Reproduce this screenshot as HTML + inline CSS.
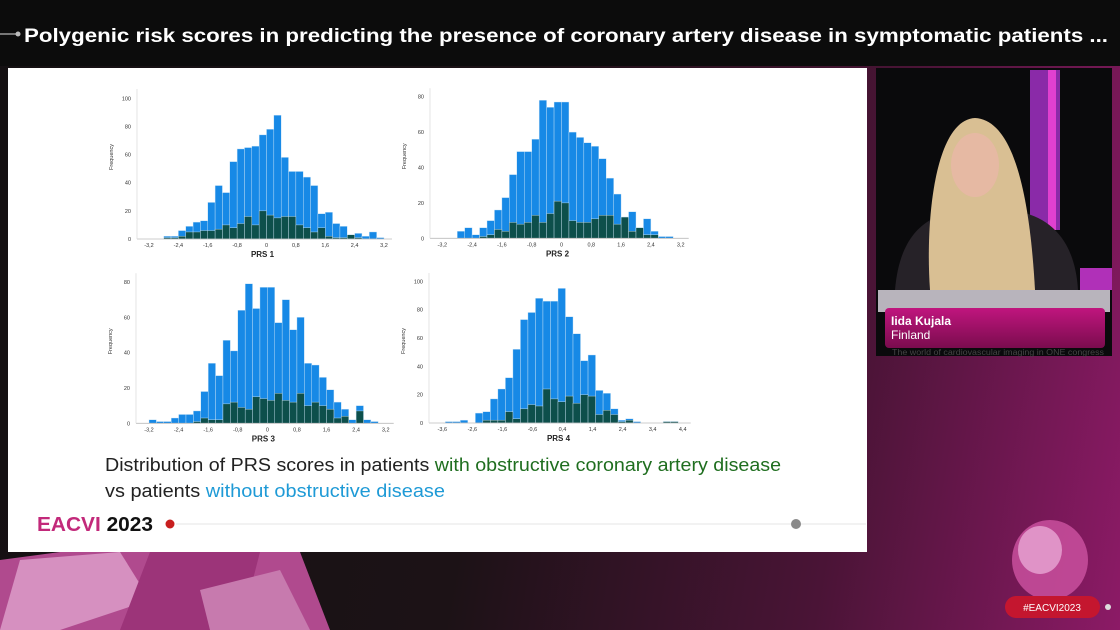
<!DOCTYPE html>
<html><head><meta charset="utf-8"><style>
html,body{margin:0;padding:0;width:1120px;height:630px;overflow:hidden;background:#151014;font-family:"Liberation Sans",sans-serif}
#root{position:relative;width:1120px;height:630px;background:linear-gradient(100deg,#141012 0%,#1c1216 45%,#4a1436 75%,#8c1a66 100%)}
</style></head><body>
<div id="root">
<svg width="1120" height="630" style="position:absolute;left:0;top:0">
  <defs>
    <linearGradient id="plate" x1="0" y1="0" x2="0" y2="1"><stop offset="0" stop-color="#c0157e"/><stop offset="1" stop-color="#7a0c4e"/></linearGradient>
  </defs>
  <rect x="0" y="0" width="1120" height="66" fill="#0c0c0c"/>
  <line x1="0" y1="34" x2="18" y2="34" stroke="#999" stroke-width="1.5"/>
  <circle cx="18" cy="34" r="2.5" fill="#bbb"/>
  <text x="24" y="42" fill="#fff" font-size="19" font-weight="bold" textLength="1084" lengthAdjust="spacingAndGlyphs">Polygenic risk scores in predicting the presence of coronary artery disease in symptomatic patients ...</text>
  <g>
    <polygon points="0,560 60,552 180,552 300,552 330,630 0,630" fill="#b04a8e"/>
    <polygon points="20,560 120,552 150,600 60,630 0,630" fill="#d690c0"/>
    <polygon points="150,552 260,552 240,630 120,630" fill="#9c3479"/>
    <polygon points="200,590 280,570 310,630 210,630" fill="#c77aae"/>
  </g>
  <g>
    <ellipse cx="1050" cy="560" rx="38" ry="40" fill="#c9509e" opacity="0.85"/>
    <ellipse cx="1040" cy="550" rx="22" ry="24" fill="#e8a6d4" opacity="0.8"/>
  </g>
  <rect x="1005" y="596" width="95" height="22" rx="11" fill="#c4162f"/>
  <text x="1052" y="611" fill="#fff" font-size="10" text-anchor="middle">#EACVI2023</text>
  <circle cx="1108" cy="607" r="3" fill="#ddd"/>
  <g>
    <rect x="876" y="68" width="236" height="288" fill="#0a0a0c"/>
    <rect x="1030" y="70" width="30" height="160" fill="#8a2aa8"/>
    <rect x="1048" y="70" width="8" height="160" fill="#e040d0"/>
    <rect x="1080" y="268" width="32" height="22" fill="#b030b8"/>
    <path d="M895,290 C900,230 930,215 960,210 L1010,210 C1050,215 1075,240 1078,290 Z" fill="#262228"/>
    <path d="M930,290 C925,220 935,120 975,118 C1015,120 1030,200 1035,290 Z" fill="#d9bf93"/>
    <ellipse cx="975" cy="165" rx="24" ry="32" fill="#e6b9a3"/>
    <rect x="878" y="290" width="232" height="22" fill="#b8b4bc"/>
    <rect x="885" y="308" width="220" height="40" rx="4" fill="url(#plate)"/>
    <text x="891" y="325" fill="#fff" font-size="12" font-weight="bold">Iida Kujala</text>
    <text x="891" y="339" fill="#fff" font-size="12">Finland</text>
    <text x="892" y="355" fill="#444" font-size="8" textLength="212" lengthAdjust="spacingAndGlyphs">The world of cardiovascular imaging in ONE congress</text>
  </g>
  <rect x="8" y="68" width="859" height="484" fill="#fff"/>
  <text x="105" y="471" font-size="18" font-family="Liberation Sans Narrow, Liberation Sans, sans-serif" textLength="676" lengthAdjust="spacingAndGlyphs"><tspan fill="#222">Distribution of PRS scores in patients </tspan><tspan fill="#1f6e1f">with obstructive coronary artery disease</tspan></text>
  <text x="105" y="497" font-size="18" font-family="Liberation Sans Narrow, Liberation Sans, sans-serif" textLength="340" lengthAdjust="spacingAndGlyphs"><tspan fill="#222">vs patients </tspan><tspan fill="#1e9ad6">without obstructive disease</tspan></text>
  <text x="37" y="531" font-size="20" font-weight="bold" font-family="Liberation Sans Narrow, Liberation Sans, sans-serif" textLength="116" lengthAdjust="spacingAndGlyphs"><tspan fill="#c2297a">EACVI</tspan><tspan fill="#111"> 2023</tspan></text>
  <line x1="176" y1="524" x2="866" y2="524" stroke="#e6e6e6" stroke-width="1"/>
  <circle cx="170" cy="524" r="4.5" fill="#c81e1e"/>
  <circle cx="796" cy="524" r="5" fill="#8a8a8a"/>
  <g id="charts"></g>
</svg>
</div>
<script>
const prs1Blue=[2,2,6,9,12,13,26,38,33,55,64,65,66,74,78,88,58,48,48,44,38,18,19,11,9,3,4,2,5,1];
const prs1Green=[1,1,2,5,5,6,6,7,10,8,11,16,10,20,17,15,16,16,10,8,5,8,2,1,1,3,1,0,0,0];
const prs2Blue=[4,6,2,6,10,16,23,36,49,49,56,78,74,77,77,60,57,54,52,45,34,25,12,15,6,11,4,1,1];
const prs2Green=[0,0,0,1,2,5,4,9,8,9,13,9,14,21,20,10,9,9,11,13,13,8,12,4,6,2,2,0,0];
const prs3Blue=[2,1,1,3,5,5,7,18,34,27,47,41,64,79,65,77,77,57,70,53,60,34,33,26,19,12,8,2,10,2,1];
const prs3Green=[0,0,0,0,0,0,1,3,2,2,11,12,9,8,15,14,13,17,13,12,17,10,12,10,8,3,4,0,7,0,0];
const prs4Blue=[1,1,2,0,7,8,17,24,32,52,73,78,88,86,86,95,75,63,44,48,23,21,10,2,3,1,0,0,0,1,1,0];
const prs4Green=[0,0,0,0,0,2,2,2,8,3,10,13,12,24,17,15,19,14,20,19,6,9,6,1,2,0,0,0,0,1,1,0];
const ticks123=["-3,2","-2,4","-1,6","-0,8","0","0,8","1,6","2,4","3,2"];
const ticks4=["-3,6","-2,6","-1,6","-0,6","0,4","1,4","2,4","3,4","4,4"];
const yTicks100=[0,20,40,60,80,100];
const yTicks80=[0,20,40,60,80];
const NS="http://www.w3.org/2000/svg";
const g=document.getElementById('charts');
function mk(tag,attrs,parent){const e=document.createElementNS(NS,tag);for(const k in attrs)e.setAttribute(k,attrs[k]);parent.appendChild(e);return e;}
function chart(c){
  const grp=mk('g',{},g);
  
  
  const xs=v=>c.px0+(v-c.xmin)/(c.xmax-c.xmin)*(c.px1-c.px0);
  const ys=v=>c.base-v/c.yref*(c.base-c.yrefPx);
  const bw=c.bin;
  [c.blue,c.green].forEach((arr,si)=>{
    arr.forEach((v,i)=>{
      if(v<=0)return;
      const x0=xs(c.start+i*bw),x1=xs(c.start+(i+1)*bw);
      const r=mk('rect',{x:x0,y:ys(v),width:x1-x0,height:c.base-ys(v),fill:si?'#0d4f4b':'#1789e6',stroke:'#cfe6f7','stroke-width':0.4},grp);
      
      
    });
  });
  mk('line',{x1:c.ax,y1:c.base,x2:c.px1+8,y2:c.base,stroke:'#bbb','stroke-width':0.8},grp);
  mk('line',{x1:c.ax,y1:c.base,x2:c.ax,y2:c.base-150,stroke:'#ddd','stroke-width':0.8},grp);
  c.yticks.forEach(t=>{const e=mk('text',{x:c.ax-6,y:ys(t)+2,'font-size':5.5,'text-anchor':'end',fill:'#333'},grp);e.textContent=t;
    });
  c.xticks.forEach((t,i)=>{const v=c.xmin+i*(c.xmax-c.xmin)/(c.xticks.length-1);
    const e=mk('text',{x:xs(v),y:c.base+8,'font-size':5.5,'text-anchor':'middle',fill:'#333'},grp);e.textContent=t;
    });
  const yl=mk('text',{x:0,y:0,'font-size':5.5,'text-anchor':'middle',fill:'#333',transform:`translate(${c.ax-24},${c.base-82}) rotate(-90)`},grp);
  yl.textContent='Frequency';
  const xl=mk('text',{x:xs((c.xmin+c.xmax)/2)-4,y:c.base+18,'font-size':8,'font-weight':'bold','text-anchor':'middle',fill:'#222'},grp);
  xl.textContent=c.title;
}
chart({name:'histogram-prs1',title:'PRS 1',blue:prs1Blue,green:prs1Green,start:-2.8,bin:0.2,xmin:-3.2,xmax:3.2,px0:149,px1:384,ax:137,base:239,yref:100,yrefPx:98.3,yticks:yTicks100,xticks:ticks123});
chart({name:'histogram-prs2',title:'PRS 2',blue:prs2Blue,green:prs2Green,start:-2.8,bin:0.2,xmin:-3.2,xmax:3.2,px0:442.3,px1:680.7,ax:430,base:238.3,yref:80,yrefPx:96.7,yticks:yTicks80,xticks:ticks123});
chart({name:'histogram-prs3',title:'PRS 3',blue:prs3Blue,green:prs3Green,start:-3.2,bin:0.2,xmin:-3.2,xmax:3.2,px0:149,px1:385.7,ax:136,base:423.3,yref:80,yrefPx:282,yticks:yTicks80,xticks:ticks123});
chart({name:'histogram-prs4',title:'PRS 4',blue:prs4Blue,green:prs4Green,start:-3.5,bin:0.25,xmin:-3.6,xmax:4.4,px0:442.3,px1:682.7,ax:429,base:423,yref:100,yrefPx:281.3,yticks:yTicks100,xticks:ticks4});
</script>
</body></html>
